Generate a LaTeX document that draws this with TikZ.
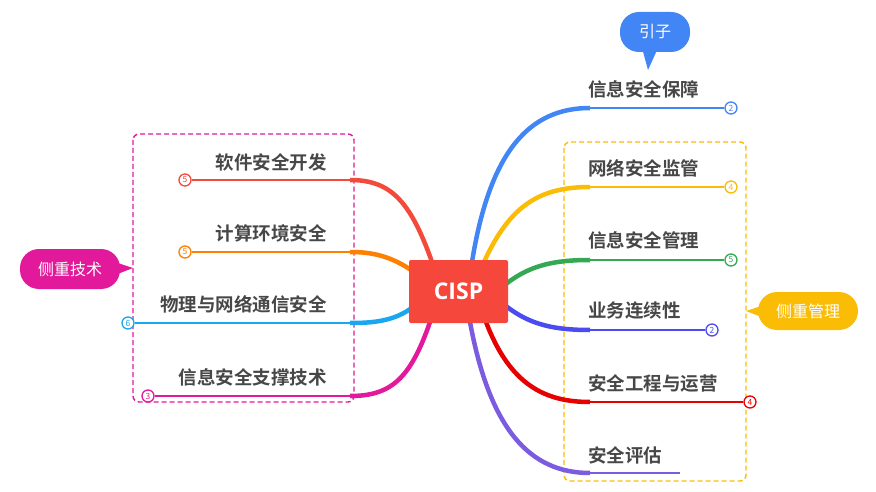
\documentclass[tikz,border=0pt]{standalone}
\usepackage{fontspec}
\setmainfont{Noto Sans CJK SC}
\newfontfamily\cjkb{Noto Sans CJK SC Bold}
\newfontfamily\cispfont{Open Sans}
\begin{document}
\begin{tikzpicture}[x=1pt,y=-1pt,
  lbl/.style={font=\cjkb\fontsize{18.5}{18.5}\selectfont,text=black!72,inner sep=0pt},
  num/.style={circle,draw=#1,fill=white,line width=1.3pt,minimum size=12pt,inner sep=0pt,font=\fontsize{8.5}{8.5}\selectfont,text=#1},
  thick branch/.style={draw=#1,line width=4.5pt},
  thin branch/.style={draw=#1,line width=2.3pt},
  dbox/.style={draw=#1,dash pattern=on 5pt off 3pt,line width=1.4pt,rounded corners=6pt}]
\definecolor{cR}{HTML}{F44A3C}\definecolor{cO}{HTML}{FF7F00}\definecolor{cB}{HTML}{1AA7F0}
\definecolor{cM}{HTML}{E3199B}\definecolor{cG}{HTML}{4285F4}\definecolor{cY}{HTML}{FBBC05}
\definecolor{cGr}{HTML}{34A853}\definecolor{cV}{HTML}{4B4BF0}\definecolor{cRd}{HTML}{E60000}
\definecolor{cP}{HTML}{7B5BE0}\definecolor{center}{HTML}{F5473B}
\useasboundingbox (0,0) rectangle (876,492);
% dashed boxes
\draw[dbox=cM] (133,134) rectangle (354,402);
\draw[dbox=cY] (564,142) rectangle (746,481);
% left branches
\coordinate (l1) at (350,180); \coordinate (l2) at (350,252); \coordinate (l3) at (350,323); \coordinate (l4) at (350,396);
\draw[thick branch=cR] (432,262) .. controls (410,200) and (390,180) .. (l1);
\draw[thick branch=cO] (414,272) .. controls (390,255) and (370,252) .. (l2);
\draw[thick branch=cB] (414,306) .. controls (395,322) and (370,323) .. (l3);
\draw[thick branch=cM] (430,322) .. controls (410,380) and (390,396) .. (l4);
\node[num=cR] (n1) at (185,180) {5};
\node[num=cO] (n2) at (185,252) {5};
\node[num=cB] (n3) at (128,323) {6};
\node[num=cM] (n4) at (148,396) {3};
\draw[thin branch=cR] (l1) -- (n1); \draw[thin branch=cO] (l2) -- (n2);
\draw[thin branch=cB] (l3) -- (n3); \draw[thin branch=cM] (l4) -- (n4);
\node[lbl,anchor=east] (t1) at (327,162) {软件安全开发};
\node[lbl,anchor=east] (t2) at (327,233) {计算环境安全};
\node[lbl,anchor=east] (t3) at (327,304) {物理与网络通信安全};
\node[lbl,anchor=east] (t4) at (327,377) {信息安全支撑技术};
% right branches
\coordinate (r1) at (590,108); \coordinate (r2) at (590,187); \coordinate (r3) at (590,260);
\coordinate (r4) at (590,330); \coordinate (r5) at (590,402); \coordinate (r6) at (590,473);
\draw[thick branch=cG] (472,262) .. controls (490,150) and (530,108) .. (r1);
\draw[thick branch=cY] (484,262) .. controls (510,205) and (540,187) .. (r2);
\draw[thick branch=cGr] (506,284) .. controls (530,265) and (555,260) .. (r3);
\draw[thick branch=cV] (506,306) .. controls (530,325) and (555,330) .. (r4);
\draw[thick branch=cRd] (486,322) .. controls (510,385) and (545,402) .. (r5);
\draw[thick branch=cP] (470,322) .. controls (490,430) and (530,473) .. (r6);
\node[num=cG] (m1) at (731,108) {2};
\node[num=cY] (m2) at (731,187) {4};
\node[num=cGr] (m3) at (731,260) {5};
\node[num=cV] (m4) at (712,330) {2};
\node[num=cRd] (m5) at (750,402) {4};
\coordinate (m6) at (680,473);
\draw[thin branch=cG] (r1) -- (m1); \draw[thin branch=cY] (r2) -- (m2);
\draw[thin branch=cGr] (r3) -- (m3); \draw[thin branch=cV] (r4) -- (m4);
\draw[thin branch=cRd] (r5) -- (m5); \draw[thin branch=cP] (r6) -- (m6);
\node[lbl,anchor=west] (s1) at (588,89) {信息安全保障};
\node[lbl,anchor=west] (s2) at (588,168) {网络安全监管};
\node[lbl,anchor=west] (s3) at (588,240) {信息安全管理};
\node[lbl,anchor=west] (s4) at (588,311) {业务连续性};
\node[lbl,anchor=west] (s5) at (588,383) {安全工程与运营};
\node[lbl,anchor=west] (s6) at (588,455) {安全评估};
% center
\node[fill=center,rounded corners=2pt,minimum width=99pt,minimum height=63pt,text=white,font=\cispfont\bfseries\fontsize{23}{23}\selectfont] (c) at (458.5,291.5) {CISP};
% callouts
\fill[cM] (115,262) -- (133,268) -- (115,275) -- cycle;
\node[fill=cM,rounded corners=19pt,minimum width=100pt,minimum height=40pt,text=white,font=\fontsize{16}{16}\selectfont] (k1) at (70,269) {侧重技术};
\fill[cY] (764,305) -- (746,311) -- (764,318) -- cycle;
\node[fill=cY,rounded corners=19pt,minimum width=100pt,minimum height=38pt,text=white,font=\fontsize{16}{16}\selectfont] (k2) at (808,311) {侧重管理};
\fill[cG] (642,48) -- (648,70) -- (658,48) -- cycle;
\node[fill=cG,rounded corners=19pt,minimum width=70pt,minimum height=40pt,text=white,font=\fontsize{16}{16}\selectfont] (k3) at (655,32) {引子};
\end{tikzpicture}
\end{document}
